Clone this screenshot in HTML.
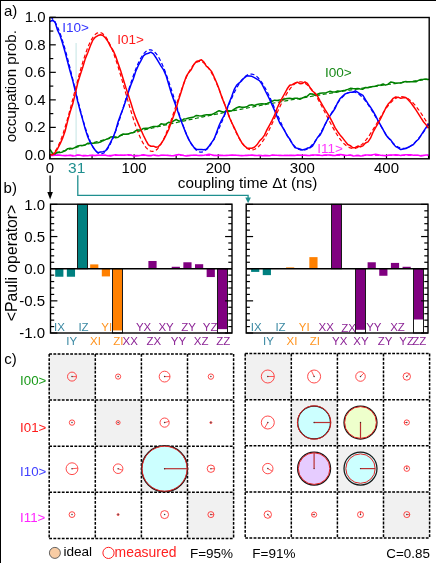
<!DOCTYPE html>
<html><head><meta charset="utf-8"><style>
html,body{margin:0;padding:0;background:#fff;}
svg{display:block;will-change:transform;}
text{font-family:"Liberation Sans", sans-serif;}
</style></head><body>
<svg width="436" height="563" viewBox="0 0 436 563">
<rect width="436" height="563" fill="#fff"/>
<line x1="0.00" y1="0.50" x2="436.00" y2="0.50" stroke="#000" stroke-width="1" />
<line x1="0.50" y1="0.00" x2="0.50" y2="563.00" stroke="#000" stroke-width="1" />
<text x="4.00" y="16.00" font-size="15" fill="#000" text-anchor="start" >a)</text>
<line x1="49.80" y1="154.90" x2="55.80" y2="154.90" stroke="#000" stroke-width="1.2" />
<line x1="49.80" y1="141.14" x2="53.30" y2="141.14" stroke="#000" stroke-width="1.2" />
<line x1="49.80" y1="127.38" x2="55.80" y2="127.38" stroke="#000" stroke-width="1.2" />
<line x1="49.80" y1="113.62" x2="53.30" y2="113.62" stroke="#000" stroke-width="1.2" />
<line x1="49.80" y1="99.86" x2="55.80" y2="99.86" stroke="#000" stroke-width="1.2" />
<line x1="49.80" y1="86.10" x2="53.30" y2="86.10" stroke="#000" stroke-width="1.2" />
<line x1="49.80" y1="72.34" x2="55.80" y2="72.34" stroke="#000" stroke-width="1.2" />
<line x1="49.80" y1="58.58" x2="53.30" y2="58.58" stroke="#000" stroke-width="1.2" />
<line x1="49.80" y1="44.82" x2="55.80" y2="44.82" stroke="#000" stroke-width="1.2" />
<line x1="49.80" y1="31.06" x2="53.30" y2="31.06" stroke="#000" stroke-width="1.2" />
<line x1="49.80" y1="17.30" x2="55.80" y2="17.30" stroke="#000" stroke-width="1.2" />
<line x1="50.00" y1="158.80" x2="50.00" y2="154.30" stroke="#000" stroke-width="1.2" />
<line x1="92.06" y1="158.80" x2="92.06" y2="155.30" stroke="#000" stroke-width="1.2" />
<line x1="134.12" y1="158.80" x2="134.12" y2="154.30" stroke="#000" stroke-width="1.2" />
<line x1="176.18" y1="158.80" x2="176.18" y2="155.30" stroke="#000" stroke-width="1.2" />
<line x1="218.24" y1="158.80" x2="218.24" y2="154.30" stroke="#000" stroke-width="1.2" />
<line x1="260.30" y1="158.80" x2="260.30" y2="155.30" stroke="#000" stroke-width="1.2" />
<line x1="302.36" y1="158.80" x2="302.36" y2="154.30" stroke="#000" stroke-width="1.2" />
<line x1="344.42" y1="158.80" x2="344.42" y2="155.30" stroke="#000" stroke-width="1.2" />
<line x1="386.48" y1="158.80" x2="386.48" y2="154.30" stroke="#000" stroke-width="1.2" />
<line x1="428.54" y1="158.80" x2="428.54" y2="155.30" stroke="#000" stroke-width="1.2" />
<text x="45.60" y="159.60" font-size="15" fill="#000" text-anchor="end" >0.0</text>
<text x="45.60" y="132.08" font-size="15" fill="#000" text-anchor="end" >0.2</text>
<text x="45.60" y="104.56" font-size="15" fill="#000" text-anchor="end" >0.4</text>
<text x="45.60" y="77.04" font-size="15" fill="#000" text-anchor="end" >0.6</text>
<text x="45.60" y="49.52" font-size="15" fill="#000" text-anchor="end" >0.8</text>
<text x="45.60" y="22.00" font-size="15" fill="#000" text-anchor="end" >1.0</text>
<text x="50.00" y="172.70" font-size="15" fill="#000" text-anchor="middle" >0</text>
<text x="134.12" y="172.70" font-size="15" fill="#000" text-anchor="middle" >100</text>
<text x="218.24" y="172.70" font-size="15" fill="#000" text-anchor="middle" >200</text>
<text x="302.36" y="172.70" font-size="15" fill="#000" text-anchor="middle" >300</text>
<text x="386.48" y="172.70" font-size="15" fill="#000" text-anchor="middle" >400</text>
<text x="76.68" y="172.70" font-size="15.5" fill="#1f8f8f" text-anchor="middle" >31</text>
<text x="177.80" y="188.20" font-size="15.3" fill="#000" text-anchor="start" >coupling time Δt (ns)</text>
<text transform="translate(16,86.2) rotate(-90)" font-size="15.2" text-anchor="middle">occupation prob.</text>
<clipPath id="ca"><rect x="49.8" y="17.5" width="379.4" height="141.3"/></clipPath>
<g clip-path="url(#ca)" fill="none" stroke-linejoin="round">
<line x1="76.08" y1="43.50" x2="76.08" y2="158.80" stroke="#88c8c8" stroke-width="1.0" stroke-dasharray="1 1"/>
<path d="M50.00,154.90 L51.68,154.40 L53.36,153.90 L55.05,153.40 L56.73,152.90 L58.41,152.41 L60.09,151.92 L61.78,151.43 L63.46,150.94 L65.14,150.46 L66.82,149.98 L68.51,149.50 L70.19,149.02 L71.87,148.55 L73.55,148.07 L75.24,147.60 L76.92,147.13 L78.60,146.67 L80.28,146.20 L81.97,145.74 L83.65,145.28 L85.33,144.82 L87.01,144.36 L88.70,143.91 L90.38,143.46 L92.06,143.01 L93.74,142.56 L95.42,142.11 L97.11,141.67 L98.79,141.22 L100.47,140.78 L102.15,140.34 L103.84,139.90 L105.52,139.47 L107.20,139.03 L108.88,138.60 L110.57,138.17 L112.25,137.74 L113.93,137.32 L115.61,136.89 L117.30,136.47 L118.98,136.05 L120.66,135.63 L122.34,135.21 L124.03,134.79 L125.71,134.38 L127.39,133.97 L129.07,133.55 L130.76,133.14 L132.44,132.74 L134.12,132.33 L135.80,131.92 L137.48,131.52 L139.17,131.12 L140.85,130.72 L142.53,130.32 L144.21,129.92 L145.90,129.52 L147.58,129.13 L149.26,128.74 L150.94,128.34 L152.63,127.95 L154.31,127.56 L155.99,127.18 L157.67,126.79 L159.36,126.41 L161.04,126.02 L162.72,125.64 L164.40,125.26 L166.09,124.88 L167.77,124.50 L169.45,124.13 L171.13,123.75 L172.82,123.38 L174.50,123.00 L176.18,122.63 L177.86,122.26 L179.54,121.89 L181.23,121.53 L182.91,121.16 L184.59,120.80 L186.27,120.43 L187.96,120.07 L189.64,119.71 L191.32,119.35 L193.00,118.99 L194.69,118.63 L196.37,118.27 L198.05,117.92 L199.73,117.56 L201.42,117.21 L203.10,116.86 L204.78,116.51 L206.46,116.16 L208.15,115.81 L209.83,115.46 L211.51,115.11 L213.19,114.77 L214.88,114.43 L216.56,114.08 L218.24,113.74 L219.92,113.40 L221.60,113.06 L223.29,112.72 L224.97,112.38 L226.65,112.05 L228.33,111.71 L230.02,111.38 L231.70,111.04 L233.38,110.71 L235.06,110.38 L236.75,110.05 L238.43,109.72 L240.11,109.39 L241.79,109.06 L243.48,108.74 L245.16,108.41 L246.84,108.09 L248.52,107.76 L250.21,107.44 L251.89,107.12 L253.57,106.80 L255.25,106.48 L256.94,106.16 L258.62,105.84 L260.30,105.53 L261.98,105.21 L263.66,104.90 L265.35,104.59 L267.03,104.27 L268.71,103.96 L270.39,103.65 L272.08,103.34 L273.76,103.03 L275.44,102.73 L277.12,102.42 L278.81,102.11 L280.49,101.81 L282.17,101.51 L283.85,101.20 L285.54,100.90 L287.22,100.60 L288.90,100.30 L290.58,100.00 L292.27,99.71 L293.95,99.41 L295.63,99.11 L297.31,98.82 L299.00,98.53 L300.68,98.23 L302.36,97.94 L304.04,97.65 L305.72,97.36 L307.41,97.07 L309.09,96.78 L310.77,96.50 L312.45,96.21 L314.14,95.93 L315.82,95.64 L317.50,95.36 L319.18,95.08 L320.87,94.80 L322.55,94.52 L324.23,94.24 L325.91,93.97 L327.60,93.69 L329.28,93.41 L330.96,93.14 L332.64,92.87 L334.33,92.59 L336.01,92.32 L337.69,92.05 L339.37,91.78 L341.06,91.52 L342.74,91.25 L344.42,90.98 L346.10,90.72 L347.78,90.46 L349.47,90.19 L351.15,89.93 L352.83,89.67 L354.51,89.41 L356.20,89.16 L357.88,88.90 L359.56,88.65 L361.24,88.39 L362.93,88.14 L364.61,87.89 L366.29,87.64 L367.97,87.39 L369.66,87.14 L371.34,86.89 L373.02,86.65 L374.70,86.40 L376.39,86.16 L378.07,85.92 L379.75,85.67 L381.43,85.44 L383.12,85.20 L384.80,84.96 L386.48,84.72 L388.16,84.49 L389.84,84.26 L391.53,84.03 L393.21,83.79 L394.89,83.57 L396.57,83.34 L398.26,83.11 L399.94,82.89 L401.62,82.66 L403.30,82.44 L404.99,82.22 L406.67,82.00 L408.35,81.78 L410.03,81.57 L411.72,81.35 L413.40,81.14 L415.08,80.92 L416.76,80.71 L418.45,80.50 L420.13,80.30 L421.81,80.09 L423.49,79.89 L425.18,79.68 L426.86,79.48 L428.54,79.28 L430.22,79.11" stroke="#008000" stroke-width="1.2" stroke-dasharray="4 2.5"/>
<path d="M50.00,155.31 L51.68,155.31 L53.36,155.31 L55.05,155.31 L56.73,155.31 L58.41,155.31 L60.09,155.31 L61.78,155.31 L63.46,155.31 L65.14,155.31 L66.82,155.31 L68.51,155.31 L70.19,155.31 L71.87,155.31 L73.55,155.31 L75.24,155.31 L76.92,155.31 L78.60,155.31 L80.28,155.31 L81.97,155.31 L83.65,155.31 L85.33,155.31 L87.01,155.31 L88.70,155.31 L90.38,155.31 L92.06,155.31 L93.74,155.31 L95.42,155.31 L97.11,155.31 L98.79,155.31 L100.47,155.31 L102.15,155.31 L103.84,155.31 L105.52,155.31 L107.20,155.31 L108.88,155.31 L110.57,155.31 L112.25,155.31 L113.93,155.31 L115.61,155.31 L117.30,155.31 L118.98,155.31 L120.66,155.31 L122.34,155.31 L124.03,155.31 L125.71,155.31 L127.39,155.31 L129.07,155.31 L130.76,155.31 L132.44,155.31 L134.12,155.31 L135.80,155.31 L137.48,155.31 L139.17,155.31 L140.85,155.31 L142.53,155.31 L144.21,155.31 L145.90,155.31 L147.58,155.31 L149.26,155.31 L150.94,155.31 L152.63,155.31 L154.31,155.31 L155.99,155.31 L157.67,155.31 L159.36,155.31 L161.04,155.31 L162.72,155.31 L164.40,155.31 L166.09,155.31 L167.77,155.31 L169.45,155.31 L171.13,155.31 L172.82,155.31 L174.50,155.31 L176.18,155.31 L177.86,155.31 L179.54,155.31 L181.23,155.31 L182.91,155.31 L184.59,155.31 L186.27,155.31 L187.96,155.31 L189.64,155.31 L191.32,155.31 L193.00,155.31 L194.69,155.31 L196.37,155.31 L198.05,155.31 L199.73,155.31 L201.42,155.31 L203.10,155.31 L204.78,155.31 L206.46,155.31 L208.15,155.31 L209.83,155.31 L211.51,155.31 L213.19,155.31 L214.88,155.31 L216.56,155.31 L218.24,155.31 L219.92,155.31 L221.60,155.31 L223.29,155.31 L224.97,155.31 L226.65,155.31 L228.33,155.31 L230.02,155.31 L231.70,155.31 L233.38,155.31 L235.06,155.31 L236.75,155.31 L238.43,155.31 L240.11,155.31 L241.79,155.31 L243.48,155.31 L245.16,155.31 L246.84,155.31 L248.52,155.31 L250.21,155.31 L251.89,155.31 L253.57,155.31 L255.25,155.31 L256.94,155.31 L258.62,155.31 L260.30,155.31 L261.98,155.31 L263.66,155.31 L265.35,155.31 L267.03,155.31 L268.71,155.31 L270.39,155.31 L272.08,155.31 L273.76,155.31 L275.44,155.31 L277.12,155.31 L278.81,155.31 L280.49,155.31 L282.17,155.31 L283.85,155.31 L285.54,155.31 L287.22,155.31 L288.90,155.31 L290.58,155.31 L292.27,155.31 L293.95,155.31 L295.63,155.31 L297.31,155.31 L299.00,155.31 L300.68,155.31 L302.36,155.31 L304.04,155.31 L305.72,155.31 L307.41,155.31 L309.09,155.31 L310.77,155.31 L312.45,155.31 L314.14,155.31 L315.82,155.31 L317.50,155.31 L319.18,155.31 L320.87,155.31 L322.55,155.31 L324.23,155.31 L325.91,155.31 L327.60,155.31 L329.28,155.31 L330.96,155.31 L332.64,155.31 L334.33,155.31 L336.01,155.31 L337.69,155.31 L339.37,155.31 L341.06,155.31 L342.74,155.31 L344.42,155.31 L346.10,155.31 L347.78,155.31 L349.47,155.31 L351.15,155.31 L352.83,155.31 L354.51,155.31 L356.20,155.31 L357.88,155.31 L359.56,155.31 L361.24,155.31 L362.93,155.31 L364.61,155.31 L366.29,155.31 L367.97,155.31 L369.66,155.31 L371.34,155.31 L373.02,155.31 L374.70,155.31 L376.39,155.31 L378.07,155.31 L379.75,155.31 L381.43,155.31 L383.12,155.31 L384.80,155.31 L386.48,155.31 L388.16,155.31 L389.84,155.31 L391.53,155.31 L393.21,155.31 L394.89,155.31 L396.57,155.31 L398.26,155.31 L399.94,155.31 L401.62,155.31 L403.30,155.31 L404.99,155.31 L406.67,155.31 L408.35,155.31 L410.03,155.31 L411.72,155.31 L413.40,155.31 L415.08,155.31 L416.76,155.31 L418.45,155.31 L420.13,155.31 L421.81,155.31 L423.49,155.31 L425.18,155.31 L426.86,155.31 L428.54,155.31 L430.22,155.31" stroke="#ff00ff" stroke-width="1.2" stroke-dasharray="4 2.5"/>
<path d="M50.00,16.91 L51.68,17.92 L53.36,19.66 L55.05,22.10 L56.73,25.21 L58.41,28.96 L60.09,33.30 L61.78,38.18 L63.46,43.56 L65.14,49.36 L66.82,55.53 L68.51,62.00 L70.19,68.70 L71.87,75.56 L73.55,82.51 L75.24,89.47 L76.92,96.38 L78.60,103.15 L80.28,109.73 L81.97,116.05 L83.65,122.05 L85.33,127.66 L87.01,132.83 L88.70,137.52 L90.38,141.68 L92.06,145.28 L93.74,148.28 L95.42,150.66 L97.11,152.41 L98.79,153.51 L100.47,153.96 L102.15,153.77 L103.84,152.93 L105.52,151.47 L107.20,149.41 L108.88,146.78 L110.57,143.61 L112.25,139.96 L113.93,135.86 L115.61,131.37 L117.30,126.55 L118.98,121.44 L120.66,116.13 L122.34,110.66 L124.03,105.10 L125.71,99.51 L127.39,93.97 L129.07,88.53 L130.76,83.24 L132.44,78.18 L134.12,73.40 L135.80,68.95 L137.48,64.87 L139.17,61.22 L140.85,58.02 L142.53,55.32 L144.21,53.13 L145.90,51.49 L147.58,50.40 L149.26,49.87 L150.94,49.92 L152.63,50.53 L154.31,51.71 L155.99,53.46 L157.67,55.73 L159.36,58.51 L161.04,61.77 L162.72,65.45 L164.40,69.53 L166.09,73.95 L167.77,78.66 L169.45,83.60 L171.13,88.73 L172.82,93.98 L174.50,99.30 L176.18,104.63 L177.86,109.90 L179.54,115.07 L181.23,120.08 L182.91,124.87 L184.59,129.40 L186.27,133.61 L187.96,137.47 L189.64,140.94 L191.32,143.98 L193.00,146.58 L194.69,148.69 L196.37,150.31 L198.05,151.43 L199.73,152.04 L201.42,152.13 L203.10,151.75 L204.78,150.91 L206.46,149.61 L208.15,147.90 L209.83,145.78 L211.51,143.29 L213.19,140.45 L214.88,137.31 L216.56,133.90 L218.24,130.27 L219.92,126.44 L221.60,122.48 L223.29,118.42 L224.97,114.30 L226.65,110.19 L228.33,106.11 L230.02,102.12 L231.70,98.25 L233.38,94.56 L235.06,91.07 L236.75,87.83 L238.43,84.87 L240.11,82.22 L241.79,79.90 L243.48,77.94 L245.16,76.37 L246.84,75.18 L248.52,74.40 L250.21,74.02 L251.89,74.06 L253.57,74.51 L255.25,75.37 L256.94,76.64 L258.62,78.29 L260.30,80.31 L261.98,82.67 L263.66,85.35 L265.35,88.31 L267.03,91.53 L268.71,94.96 L270.39,98.56 L272.08,102.31 L273.76,106.15 L275.44,110.04 L277.12,113.96 L278.81,117.84 L280.49,121.66 L282.17,125.37 L283.85,128.93 L285.54,132.31 L287.22,135.48 L288.90,138.40 L290.58,141.05 L292.27,143.40 L293.95,145.43 L295.63,147.12 L297.31,148.46 L299.00,149.44 L300.68,150.06 L302.36,150.30 L304.04,150.18 L305.72,149.71 L307.41,148.89 L309.09,147.74 L310.77,146.28 L312.45,144.53 L314.14,142.50 L315.82,140.23 L317.50,137.75 L319.18,135.08 L320.87,132.25 L322.55,129.31 L324.23,126.28 L325.91,123.19 L327.60,120.09 L329.28,117.01 L330.96,113.98 L332.64,111.03 L334.33,108.21 L336.01,105.53 L337.69,103.03 L339.37,100.73 L341.06,98.66 L342.74,96.84 L344.42,95.28 L346.10,94.01 L347.78,93.03 L349.47,92.36 L351.15,91.99 L352.83,91.94 L354.51,92.19 L356.20,92.76 L357.88,93.64 L359.56,94.81 L361.24,96.27 L362.93,97.98 L364.61,99.94 L366.29,102.12 L367.97,104.50 L369.66,107.04 L371.34,109.72 L373.02,112.51 L374.70,115.37 L376.39,118.28 L378.07,121.21 L379.75,124.12 L381.43,126.98 L383.12,129.76 L384.80,132.44 L386.48,134.98 L388.16,137.36 L389.84,139.56 L391.53,141.55 L393.21,143.31 L394.89,144.83 L396.57,146.10 L398.26,147.11 L399.94,147.84 L401.62,148.29 L403.30,148.47 L404.99,148.37 L406.67,147.99 L408.35,147.35 L410.03,146.45 L411.72,145.31 L413.40,143.94 L415.08,142.36 L416.76,140.60 L418.45,138.67 L420.13,136.61 L421.81,134.43 L423.49,132.17 L425.18,129.84 L426.86,127.49 L428.54,125.13 L430.22,122.81" stroke="#0000ff" stroke-width="1.2" stroke-dasharray="4 2.5"/>
<path d="M50.00,154.90 L51.68,154.46 L53.36,153.28 L55.05,151.38 L56.73,148.79 L58.41,145.54 L60.09,141.69 L61.78,137.29 L63.46,132.38 L65.14,127.04 L66.82,121.32 L68.51,115.30 L70.19,109.05 L71.87,102.64 L73.55,96.14 L75.24,89.62 L76.92,83.17 L78.60,76.85 L80.28,70.73 L81.97,64.88 L83.65,59.36 L85.33,54.23 L87.01,49.55 L88.70,45.36 L90.38,41.70 L92.06,38.62 L93.74,36.13 L95.42,34.28 L97.11,33.06 L98.79,32.50 L100.47,32.59 L102.15,33.32 L103.84,34.67 L105.52,36.61 L107.20,39.13 L108.88,42.19 L110.57,45.76 L112.25,49.81 L113.93,54.27 L115.61,59.12 L117.30,64.29 L118.98,69.73 L120.66,75.38 L122.34,81.19 L124.03,87.09 L125.71,93.03 L127.39,98.95 L129.07,104.78 L130.76,110.47 L132.44,115.97 L134.12,121.22 L135.80,126.17 L137.48,130.78 L139.17,135.00 L140.85,138.80 L142.53,142.14 L144.21,145.00 L145.90,147.35 L147.58,149.17 L149.26,150.47 L150.94,151.22 L152.63,151.45 L154.31,151.12 L155.99,150.19 L157.67,148.68 L159.36,146.62 L161.04,144.04 L162.72,140.97 L164.40,137.47 L166.09,133.57 L167.77,129.34 L169.45,124.83 L171.13,120.09 L172.82,115.19 L174.50,110.20 L176.18,105.16 L177.86,100.16 L179.54,95.24 L181.23,90.47 L182.91,85.90 L184.59,81.59 L186.27,77.60 L187.96,73.96 L189.64,70.73 L191.32,67.93 L193.00,65.60 L194.69,63.76 L196.37,62.44 L198.05,61.64 L199.73,61.38 L201.42,61.65 L203.10,62.41 L204.78,63.64 L206.46,65.31 L208.15,67.42 L209.83,69.93 L211.51,72.82 L213.19,76.05 L214.88,79.59 L216.56,83.39 L218.24,87.43 L219.92,91.64 L221.60,96.00 L223.29,100.44 L224.97,104.94 L226.65,109.43 L228.33,113.87 L230.02,118.22 L231.70,122.43 L233.38,126.47 L235.06,130.28 L236.75,133.84 L238.43,137.11 L240.11,140.05 L241.79,142.65 L243.48,144.88 L245.16,146.72 L246.84,148.16 L248.52,149.18 L250.21,149.78 L251.89,149.97 L253.57,149.72 L255.25,149.05 L256.94,147.97 L258.62,146.48 L260.30,144.62 L261.98,142.41 L263.66,139.88 L265.35,137.07 L267.03,134.01 L268.71,130.73 L270.39,127.29 L272.08,123.71 L273.76,120.05 L275.44,116.35 L277.12,112.66 L278.81,109.00 L280.49,105.44 L282.17,102.01 L283.85,98.74 L285.54,95.68 L287.22,92.86 L288.90,90.31 L290.58,88.05 L292.27,86.12 L293.95,84.54 L295.63,83.31 L297.31,82.46 L299.00,81.98 L300.68,81.88 L302.36,82.17 L304.04,82.80 L305.72,83.76 L307.41,85.04 L309.09,86.62 L310.77,88.50 L312.45,90.64 L314.14,93.03 L315.82,95.64 L317.50,98.44 L319.18,101.40 L320.87,104.49 L322.55,107.68 L324.23,110.95 L325.91,114.24 L327.60,117.54 L329.28,120.82 L330.96,124.02 L332.64,127.14 L334.33,130.13 L336.01,132.97 L337.69,135.64 L339.37,138.10 L341.06,140.34 L342.74,142.33 L344.42,144.06 L346.10,145.52 L347.78,146.69 L349.47,147.57 L351.15,148.15 L352.83,148.42 L354.51,148.39 L356.20,148.04 L357.88,147.35 L359.56,146.36 L361.24,145.07 L362.93,143.50 L364.61,141.67 L366.29,139.61 L367.97,137.35 L369.66,134.91 L371.34,132.32 L373.02,129.62 L374.70,126.84 L376.39,124.02 L378.07,121.18 L379.75,118.37 L381.43,115.61 L383.12,112.94 L384.80,110.39 L386.48,107.98 L388.16,105.75 L389.84,103.72 L391.53,101.92 L393.21,100.35 L394.89,99.05 L396.57,98.02 L398.26,97.27 L399.94,96.81 L401.62,96.65 L403.30,96.79 L404.99,97.21 L406.67,97.91 L408.35,98.88 L410.03,100.11 L411.72,101.59 L413.40,103.29 L415.08,105.19 L416.76,107.28 L418.45,109.52 L420.13,111.90 L421.81,114.39 L423.49,116.95 L425.18,119.56 L426.86,122.19 L428.54,124.81 L430.22,127.41" stroke="#ff0000" stroke-width="1.2" stroke-dasharray="4 2.5"/>
<path d="M50.00,155.47 L52.52,155.50 L55.05,155.19 L57.57,154.90 L60.09,155.16 L62.62,155.44 L65.14,155.66 L67.67,155.47 L70.19,155.29 L72.71,155.97 L75.24,155.69 L77.76,154.89 L80.28,155.29 L82.81,155.89 L85.33,155.68 L87.85,155.69 L90.38,155.38 L92.90,155.29 L95.42,155.60 L97.95,155.21 L100.47,155.22 L103.00,155.26 L105.52,155.32 L108.04,155.78 L110.57,156.01 L113.09,155.17 L115.61,154.75 L118.14,155.20 L120.66,155.12 L123.18,155.14 L125.71,155.12 L128.23,154.64 L130.76,154.94 L133.28,155.89 L135.80,155.88 L138.33,155.82 L140.85,155.34 L143.37,154.74 L145.90,155.21 L148.42,155.82 L150.94,155.66 L153.47,154.89 L155.99,155.57 L158.51,155.81 L161.04,155.33 L163.56,155.18 L166.09,155.19 L168.61,155.55 L171.13,155.67 L173.66,155.86 L176.18,155.06 L178.70,154.57 L181.23,155.06 L183.75,155.53 L186.27,155.94 L188.80,155.80 L191.32,155.29 L193.85,155.21 L196.37,155.22 L198.89,155.51 L201.42,155.50 L203.94,155.20 L206.46,154.83 L208.99,154.31 L211.51,154.70 L214.03,155.42 L216.56,155.40 L219.08,155.36 L221.60,155.55 L224.13,155.40 L226.65,155.48 L229.18,155.30 L231.70,155.04 L234.22,155.13 L236.75,155.16 L239.27,155.43 L241.79,155.64 L244.32,155.50 L246.84,155.39 L249.36,155.26 L251.89,155.11 L254.41,155.55 L256.94,155.53 L259.46,155.53 L261.98,155.71 L264.51,155.43 L267.03,155.83 L269.55,155.72 L272.08,155.11 L274.60,155.18 L277.12,155.34 L279.65,155.39 L282.17,155.55 L284.69,155.52 L287.22,155.40 L289.74,155.30 L292.27,155.48 L294.79,155.44 L297.31,155.07 L299.84,155.17 L302.36,155.34 L304.88,155.14 L307.41,155.48 L309.93,155.51 L312.45,154.98 L314.98,155.03 L317.50,154.99 L320.03,155.25 L322.55,155.43 L325.07,155.07 L327.60,154.88 L330.12,155.00 L332.64,155.54 L335.17,155.44 L337.69,154.71 L340.21,154.58 L342.74,154.83 L345.26,155.54 L347.78,155.34 L350.31,154.96 L352.83,155.91 L355.36,155.77 L357.88,155.48 L360.40,155.94 L362.93,155.71 L365.45,155.00 L367.97,154.93 L370.50,155.20 L373.02,154.62 L375.54,154.26 L378.07,154.76 L380.59,155.27 L383.12,155.59 L385.64,155.71 L388.16,155.25 L390.69,154.95 L393.21,155.04 L395.73,154.87 L398.26,155.11 L400.78,155.40 L403.30,154.99 L405.83,154.81 L408.35,154.72 L410.87,154.77 L413.40,155.15 L415.92,155.16 L418.45,155.35 L420.97,155.90 L423.49,155.47 L426.02,155.03 L428.54,155.11" stroke="#ff00ff" stroke-width="1.5"/>
<path d="M50.00,149.40 L52.52,153.25 L55.05,153.80 L57.57,152.15 L60.09,152.61 L62.62,151.91 L65.14,150.83 L67.67,148.63 L70.19,148.22 L72.71,148.69 L75.24,147.34 L77.76,146.00 L80.28,145.51 L82.81,145.58 L85.33,144.94 L87.85,143.21 L90.38,143.32 L92.90,143.32 L95.42,142.96 L97.95,142.78 L100.47,142.05 L103.00,140.71 L105.52,139.66 L108.04,138.67 L110.57,137.11 L113.09,136.72 L115.61,137.71 L118.14,137.27 L120.66,135.08 L123.18,134.02 L125.71,134.29 L128.23,134.00 L130.76,133.02 L133.28,132.59 L135.80,130.69 L138.33,130.06 L140.85,130.11 L143.37,128.44 L145.90,128.16 L148.42,128.16 L150.94,127.12 L153.47,126.40 L155.99,126.62 L158.51,126.02 L161.04,123.82 L163.56,124.23 L166.09,123.95 L168.61,122.33 L171.13,122.68 L173.66,120.94 L176.18,119.49 L178.70,120.90 L181.23,120.76 L183.75,119.10 L186.27,118.70 L188.80,118.07 L191.32,117.44 L193.85,116.90 L196.37,115.42 L198.89,115.71 L201.42,115.93 L203.94,115.26 L206.46,114.78 L208.99,114.69 L211.51,114.60 L214.03,113.46 L216.56,112.03 L219.08,110.68 L221.60,111.54 L224.13,112.22 L226.65,110.50 L229.18,110.73 L231.70,110.91 L234.22,109.24 L236.75,107.68 L239.27,106.70 L241.79,107.19 L244.32,107.35 L246.84,106.82 L249.36,105.17 L251.89,104.80 L254.41,105.45 L256.94,104.50 L259.46,103.91 L261.98,103.79 L264.51,103.94 L267.03,103.36 L269.55,102.49 L272.08,101.30 L274.60,100.17 L277.12,100.46 L279.65,100.00 L282.17,99.76 L284.69,99.08 L287.22,98.43 L289.74,98.29 L292.27,98.65 L294.79,98.37 L297.31,98.19 L299.84,99.24 L302.36,97.96 L304.88,96.84 L307.41,96.13 L309.93,93.77 L312.45,93.98 L314.98,95.35 L317.50,94.31 L320.03,93.21 L322.55,93.05 L325.07,93.09 L327.60,92.15 L330.12,91.32 L332.64,92.00 L335.17,91.99 L337.69,90.95 L340.21,91.18 L342.74,90.66 L345.26,90.17 L347.78,89.36 L350.31,88.34 L352.83,88.53 L355.36,88.65 L357.88,88.43 L360.40,88.94 L362.93,89.22 L365.45,87.41 L367.97,87.68 L370.50,87.04 L373.02,86.47 L375.54,86.19 L378.07,85.30 L380.59,84.96 L383.12,84.03 L385.64,85.14 L388.16,84.13 L390.69,81.96 L393.21,82.47 L395.73,83.22 L398.26,82.97 L400.78,83.10 L403.30,82.02 L405.83,81.46 L408.35,81.87 L410.87,81.74 L413.40,81.81 L415.92,81.83 L418.45,80.38 L420.97,79.41 L423.49,79.31 L426.02,78.94 L428.54,79.70" stroke="#008000" stroke-width="1.5"/>
<path d="M50.00,21.57 L52.52,20.05 L55.05,22.12 L57.57,30.29 L60.09,35.44 L62.62,43.51 L65.14,52.23 L67.67,62.02 L70.19,71.54 L72.71,80.38 L75.24,90.80 L77.76,101.58 L80.28,111.22 L82.81,120.17 L85.33,129.38 L87.85,136.96 L90.38,142.71 L92.90,146.95 L95.42,150.44 L97.95,152.73 L100.47,151.94 L103.00,151.69 L105.52,150.85 L108.04,147.14 L110.57,142.22 L113.09,137.40 L115.61,130.72 L118.14,121.78 L120.66,114.67 L123.18,108.19 L125.71,100.74 L128.23,92.60 L130.76,85.20 L133.28,79.06 L135.80,71.13 L138.33,65.45 L140.85,60.96 L143.37,55.89 L145.90,53.96 L148.42,53.30 L150.94,52.18 L153.47,53.80 L155.99,57.74 L158.51,61.97 L161.04,66.15 L163.56,69.89 L166.09,75.59 L168.61,83.98 L171.13,92.44 L173.66,99.75 L176.18,106.69 L178.70,114.03 L181.23,121.29 L183.75,127.72 L186.27,134.14 L188.80,139.66 L191.32,143.77 L193.85,147.23 L196.37,149.42 L198.89,149.49 L201.42,149.61 L203.94,149.85 L206.46,149.34 L208.99,146.26 L211.51,142.67 L214.03,139.27 L216.56,132.40 L219.08,125.46 L221.60,120.12 L224.13,115.49 L226.65,109.48 L229.18,102.84 L231.70,96.52 L234.22,89.45 L236.75,85.03 L239.27,82.93 L241.79,80.60 L244.32,77.83 L246.84,75.80 L249.36,76.01 L251.89,76.31 L254.41,77.62 L256.94,79.13 L259.46,80.62 L261.98,84.19 L264.51,89.28 L267.03,94.27 L269.55,99.08 L272.08,104.95 L274.60,110.55 L277.12,116.62 L279.65,122.73 L282.17,126.66 L284.69,130.80 L287.22,135.67 L289.74,138.94 L292.27,143.57 L294.79,147.45 L297.31,148.35 L299.84,148.96 L302.36,149.90 L304.88,149.35 L307.41,148.05 L309.93,147.77 L312.45,146.11 L314.98,141.88 L317.50,137.50 L320.03,135.21 L322.55,130.37 L325.07,124.29 L327.60,119.65 L330.12,115.62 L332.64,112.12 L335.17,108.28 L337.69,102.56 L340.21,98.43 L342.74,95.99 L345.26,93.83 L347.78,92.89 L350.31,92.37 L352.83,92.26 L355.36,90.86 L357.88,92.39 L360.40,94.03 L362.93,95.40 L365.45,99.67 L367.97,103.67 L370.50,107.22 L373.02,111.17 L375.54,115.68 L378.07,120.72 L380.59,125.13 L383.12,129.68 L385.64,134.49 L388.16,137.75 L390.69,139.85 L393.21,143.71 L395.73,146.63 L398.26,147.84 L400.78,149.55 L403.30,149.04 L405.83,148.51 L408.35,147.22 L410.87,145.87 L413.40,144.48 L415.92,141.55 L418.45,139.24 L420.97,135.37 L423.49,131.38 L426.02,127.59 L428.54,123.69" stroke="#0000ff" stroke-width="1.5"/>
<path d="M50.00,155.03 L52.52,154.87 L55.05,152.54 L57.57,148.76 L60.09,143.88 L62.62,138.15 L65.14,131.03 L67.67,120.84 L70.19,111.79 L72.71,104.07 L75.24,93.87 L77.76,82.84 L80.28,74.74 L82.81,67.05 L85.33,58.60 L87.85,52.55 L90.38,45.78 L92.90,40.02 L95.42,37.07 L97.95,35.56 L100.47,34.79 L103.00,35.53 L105.52,37.99 L108.04,41.59 L110.57,46.57 L113.09,50.34 L115.61,56.04 L118.14,63.54 L120.66,70.65 L123.18,78.92 L125.71,87.25 L128.23,94.70 L130.76,102.57 L133.28,110.79 L135.80,117.91 L138.33,123.84 L140.85,129.49 L143.37,135.23 L145.90,140.35 L148.42,144.82 L150.94,146.24 L153.47,146.13 L155.99,147.23 L158.51,146.61 L161.04,143.70 L163.56,139.83 L166.09,134.85 L168.61,129.72 L171.13,122.59 L173.66,115.71 L176.18,108.39 L178.70,99.46 L181.23,91.75 L183.75,83.56 L186.27,76.45 L188.80,72.41 L191.32,69.45 L193.85,64.45 L196.37,61.50 L198.89,60.79 L201.42,59.77 L203.94,62.08 L206.46,66.27 L208.99,68.45 L211.51,71.37 L214.03,76.74 L216.56,82.45 L219.08,89.06 L221.60,96.61 L224.13,102.97 L226.65,109.46 L229.18,117.06 L231.70,122.54 L234.22,127.51 L236.75,132.95 L239.27,138.20 L241.79,142.73 L244.32,145.73 L246.84,147.93 L249.36,148.27 L251.89,148.30 L254.41,147.32 L256.94,144.80 L259.46,141.06 L261.98,138.64 L264.51,135.17 L267.03,129.63 L269.55,125.03 L272.08,120.44 L274.60,115.15 L277.12,108.25 L279.65,102.64 L282.17,97.99 L284.69,93.50 L287.22,88.78 L289.74,85.22 L292.27,84.66 L294.79,83.25 L297.31,82.14 L299.84,83.63 L302.36,83.43 L304.88,81.90 L307.41,83.45 L309.93,87.45 L312.45,91.01 L314.98,92.98 L317.50,96.07 L320.03,100.82 L322.55,105.25 L325.07,109.71 L327.60,113.70 L330.12,117.89 L332.64,122.67 L335.17,127.90 L337.69,131.71 L340.21,135.17 L342.74,138.11 L345.26,141.35 L347.78,144.52 L350.31,145.64 L352.83,147.75 L355.36,147.50 L357.88,146.05 L360.40,146.90 L362.93,145.86 L365.45,142.98 L367.97,141.92 L370.50,138.17 L373.02,132.25 L375.54,127.65 L378.07,123.41 L380.59,118.75 L383.12,113.49 L385.64,108.23 L388.16,104.05 L390.69,101.55 L393.21,98.32 L395.73,96.98 L398.26,97.37 L400.78,98.25 L403.30,97.85 L405.83,97.57 L408.35,99.99 L410.87,102.72 L413.40,106.22 L415.92,109.89 L418.45,113.79 L420.97,117.93 L423.49,121.72 L426.02,124.64 L428.54,128.23" stroke="#ff0000" stroke-width="1.5"/>
</g>
<rect x="49.8" y="17.5" width="379.4" height="141.3" fill="none" stroke="#000" stroke-width="1.4"/>
<text x="62.20" y="31.70" font-size="13.5" fill="#3333ff" text-anchor="start" >I10&gt;</text>
<text x="117.20" y="44.40" font-size="13.5" fill="#ff1a1a" text-anchor="start" >I01&gt;</text>
<text x="324.90" y="77.40" font-size="13.6" fill="#1a8a1a" text-anchor="start" >I00&gt;</text>
<text x="317.20" y="153.20" font-size="13.5" fill="#ff33ff" text-anchor="start" >I11&gt;</text>
<line x1="50.10" y1="175.50" x2="50.10" y2="193.00" stroke="#000" stroke-width="1.3" />
<path d="M47.3,192 L52.9,192 L50.1,199.5 Z" fill="#000"/>
<path d="M77.8,175.3 L77.8,195.3 L248.1,195.3 L248.1,198" fill="none" stroke="#1f8f8f" stroke-width="1.3"/>
<path d="M245.3,197.5 L250.9,197.5 L248.1,203.3 Z" fill="#1f8f8f"/>
<text x="3.60" y="193.20" font-size="15" fill="#000" text-anchor="start" >b)</text>
<text transform="translate(16.8,263) rotate(-90)" font-size="15.75" text-anchor="middle">&lt;Pauli operator&gt;</text>
<text x="45.00" y="209.70" font-size="15" fill="#000" text-anchor="end" >1.0</text>
<text x="45.00" y="241.85" font-size="15" fill="#000" text-anchor="end" >0.5</text>
<text x="45.00" y="274.00" font-size="15" fill="#000" text-anchor="end" >0.0</text>
<text x="45.00" y="306.15" font-size="15" fill="#000" text-anchor="end" >-0.5</text>
<text x="45.00" y="338.30" font-size="15" fill="#000" text-anchor="end" >-1.0</text>
<rect x="55.20" y="268.70" width="8.2" height="8.04" fill="#008080"/>
<rect x="66.85" y="268.70" width="8.2" height="8.04" fill="#008080"/>
<rect x="78.00" y="204.72" width="9" height="63.98" fill="#008080"/>
<rect x="90.15" y="264.39" width="8.2" height="4.31" fill="#ff8000"/>
<rect x="101.80" y="268.70" width="8.2" height="7.72" fill="#ff8000"/>
<rect x="113.00" y="268.70" width="9" height="61.73" fill="#ff8000"/>
<rect x="148.40" y="260.98" width="8.2" height="7.72" fill="#800080"/>
<rect x="171.70" y="266.77" width="8.2" height="1.93" fill="#800080"/>
<rect x="183.35" y="262.27" width="8.2" height="6.43" fill="#800080"/>
<rect x="195.00" y="264.20" width="8.2" height="4.50" fill="#800080"/>
<rect x="206.65" y="268.70" width="8.2" height="8.36" fill="#800080"/>
<rect x="218.00" y="268.70" width="9" height="60.44" fill="#800080"/>
<rect x="77.50" y="204.40" width="10" height="64.30" fill="none" stroke="#1a1a1a" stroke-width="1"/>
<rect x="112.50" y="268.70" width="10" height="64.30" fill="none" stroke="#1a1a1a" stroke-width="1"/>
<rect x="217.50" y="268.70" width="10" height="64.30" fill="none" stroke="#1a1a1a" stroke-width="1"/>
<line x1="50.50" y1="333.00" x2="57.40" y2="333.00" stroke="#000" stroke-width="1.2" />
<line x1="232.00" y1="333.00" x2="225.10" y2="333.00" stroke="#000" stroke-width="1.2" />
<line x1="50.50" y1="326.57" x2="54.20" y2="326.57" stroke="#000" stroke-width="1.2" />
<line x1="232.00" y1="326.57" x2="228.30" y2="326.57" stroke="#000" stroke-width="1.2" />
<line x1="50.50" y1="320.14" x2="54.20" y2="320.14" stroke="#000" stroke-width="1.2" />
<line x1="232.00" y1="320.14" x2="228.30" y2="320.14" stroke="#000" stroke-width="1.2" />
<line x1="50.50" y1="313.71" x2="54.20" y2="313.71" stroke="#000" stroke-width="1.2" />
<line x1="232.00" y1="313.71" x2="228.30" y2="313.71" stroke="#000" stroke-width="1.2" />
<line x1="50.50" y1="307.28" x2="54.20" y2="307.28" stroke="#000" stroke-width="1.2" />
<line x1="232.00" y1="307.28" x2="228.30" y2="307.28" stroke="#000" stroke-width="1.2" />
<line x1="50.50" y1="300.85" x2="57.40" y2="300.85" stroke="#000" stroke-width="1.2" />
<line x1="232.00" y1="300.85" x2="225.10" y2="300.85" stroke="#000" stroke-width="1.2" />
<line x1="50.50" y1="294.42" x2="54.20" y2="294.42" stroke="#000" stroke-width="1.2" />
<line x1="232.00" y1="294.42" x2="228.30" y2="294.42" stroke="#000" stroke-width="1.2" />
<line x1="50.50" y1="287.99" x2="54.20" y2="287.99" stroke="#000" stroke-width="1.2" />
<line x1="232.00" y1="287.99" x2="228.30" y2="287.99" stroke="#000" stroke-width="1.2" />
<line x1="50.50" y1="281.56" x2="54.20" y2="281.56" stroke="#000" stroke-width="1.2" />
<line x1="232.00" y1="281.56" x2="228.30" y2="281.56" stroke="#000" stroke-width="1.2" />
<line x1="50.50" y1="275.13" x2="54.20" y2="275.13" stroke="#000" stroke-width="1.2" />
<line x1="232.00" y1="275.13" x2="228.30" y2="275.13" stroke="#000" stroke-width="1.2" />
<line x1="50.50" y1="268.70" x2="57.40" y2="268.70" stroke="#000" stroke-width="1.2" />
<line x1="232.00" y1="268.70" x2="225.10" y2="268.70" stroke="#000" stroke-width="1.2" />
<line x1="50.50" y1="262.27" x2="54.20" y2="262.27" stroke="#000" stroke-width="1.2" />
<line x1="232.00" y1="262.27" x2="228.30" y2="262.27" stroke="#000" stroke-width="1.2" />
<line x1="50.50" y1="255.84" x2="54.20" y2="255.84" stroke="#000" stroke-width="1.2" />
<line x1="232.00" y1="255.84" x2="228.30" y2="255.84" stroke="#000" stroke-width="1.2" />
<line x1="50.50" y1="249.41" x2="54.20" y2="249.41" stroke="#000" stroke-width="1.2" />
<line x1="232.00" y1="249.41" x2="228.30" y2="249.41" stroke="#000" stroke-width="1.2" />
<line x1="50.50" y1="242.98" x2="54.20" y2="242.98" stroke="#000" stroke-width="1.2" />
<line x1="232.00" y1="242.98" x2="228.30" y2="242.98" stroke="#000" stroke-width="1.2" />
<line x1="50.50" y1="236.55" x2="57.40" y2="236.55" stroke="#000" stroke-width="1.2" />
<line x1="232.00" y1="236.55" x2="225.10" y2="236.55" stroke="#000" stroke-width="1.2" />
<line x1="50.50" y1="230.12" x2="54.20" y2="230.12" stroke="#000" stroke-width="1.2" />
<line x1="232.00" y1="230.12" x2="228.30" y2="230.12" stroke="#000" stroke-width="1.2" />
<line x1="50.50" y1="223.69" x2="54.20" y2="223.69" stroke="#000" stroke-width="1.2" />
<line x1="232.00" y1="223.69" x2="228.30" y2="223.69" stroke="#000" stroke-width="1.2" />
<line x1="50.50" y1="217.26" x2="54.20" y2="217.26" stroke="#000" stroke-width="1.2" />
<line x1="232.00" y1="217.26" x2="228.30" y2="217.26" stroke="#000" stroke-width="1.2" />
<line x1="50.50" y1="210.83" x2="54.20" y2="210.83" stroke="#000" stroke-width="1.2" />
<line x1="232.00" y1="210.83" x2="228.30" y2="210.83" stroke="#000" stroke-width="1.2" />
<line x1="50.50" y1="204.40" x2="57.40" y2="204.40" stroke="#000" stroke-width="1.2" />
<line x1="232.00" y1="204.40" x2="225.10" y2="204.40" stroke="#000" stroke-width="1.2" />
<line x1="50.50" y1="268.70" x2="232.00" y2="268.70" stroke="#000" stroke-width="1.4" />
<rect x="50.5" y="204.2" width="181.5" height="128.8" fill="none" stroke="#000" stroke-width="1.4"/>
<text x="59.50" y="330.90" font-size="11.5" fill="#3a88a2" text-anchor="middle" >IX</text>
<text x="71.70" y="344.50" font-size="11.5" fill="#3a88a2" text-anchor="middle" >IY</text>
<text x="83.50" y="330.90" font-size="11.5" fill="#3a88a2" text-anchor="middle" >IZ</text>
<text x="95.50" y="344.50" font-size="11.5" fill="#ff9420" text-anchor="middle" >XI</text>
<text x="106.80" y="330.90" font-size="11.5" fill="#ff9420" text-anchor="middle" >YI</text>
<text x="118.30" y="344.50" font-size="11.5" fill="#ff9420" text-anchor="middle" >ZI</text>
<text x="130.20" y="344.50" font-size="11.5" fill="#8c2496" text-anchor="middle" >XX</text>
<text x="143.60" y="330.90" font-size="11.5" fill="#8c2496" text-anchor="middle" >YX</text>
<text x="153.80" y="344.50" font-size="11.5" fill="#8c2496" text-anchor="middle" >ZX</text>
<text x="166.10" y="330.90" font-size="11.5" fill="#8c2496" text-anchor="middle" >XY</text>
<text x="178.50" y="344.50" font-size="11.5" fill="#8c2496" text-anchor="middle" >YY</text>
<text x="188.50" y="330.90" font-size="11.5" fill="#8c2496" text-anchor="middle" >ZY</text>
<text x="201.20" y="344.50" font-size="11.5" fill="#8c2496" text-anchor="middle" >XZ</text>
<text x="210.10" y="330.90" font-size="11.5" fill="#8c2496" text-anchor="middle" >YZ</text>
<text x="223.20" y="344.50" font-size="11.5" fill="#8c2496" text-anchor="middle" >ZZ</text>
<rect x="251.10" y="268.70" width="8.2" height="3.21" fill="#008080"/>
<rect x="262.75" y="268.70" width="8.2" height="6.43" fill="#008080"/>
<rect x="286.05" y="267.41" width="8.2" height="1.29" fill="#ff8000"/>
<rect x="309.35" y="257.13" width="8.2" height="11.57" fill="#ff8000"/>
<rect x="332.00" y="204.72" width="9" height="63.98" fill="#800080"/>
<rect x="356.00" y="268.70" width="9" height="61.08" fill="#800080"/>
<rect x="367.60" y="262.27" width="8.2" height="6.43" fill="#800080"/>
<rect x="379.25" y="268.70" width="8.2" height="7.07" fill="#800080"/>
<rect x="390.90" y="262.91" width="8.2" height="5.79" fill="#800080"/>
<rect x="402.55" y="266.77" width="8.2" height="1.93" fill="#800080"/>
<rect x="414.00" y="268.70" width="9" height="50.80" fill="#800080"/>
<rect x="331.50" y="204.40" width="10" height="64.30" fill="none" stroke="#1a1a1a" stroke-width="1"/>
<rect x="355.50" y="268.70" width="10" height="64.30" fill="none" stroke="#1a1a1a" stroke-width="1"/>
<rect x="413.50" y="268.70" width="10" height="64.30" fill="none" stroke="#1a1a1a" stroke-width="1"/>
<line x1="246.20" y1="333.00" x2="253.10" y2="333.00" stroke="#000" stroke-width="1.2" />
<line x1="428.00" y1="333.00" x2="421.10" y2="333.00" stroke="#000" stroke-width="1.2" />
<line x1="246.20" y1="326.57" x2="249.90" y2="326.57" stroke="#000" stroke-width="1.2" />
<line x1="428.00" y1="326.57" x2="424.30" y2="326.57" stroke="#000" stroke-width="1.2" />
<line x1="246.20" y1="320.14" x2="249.90" y2="320.14" stroke="#000" stroke-width="1.2" />
<line x1="428.00" y1="320.14" x2="424.30" y2="320.14" stroke="#000" stroke-width="1.2" />
<line x1="246.20" y1="313.71" x2="249.90" y2="313.71" stroke="#000" stroke-width="1.2" />
<line x1="428.00" y1="313.71" x2="424.30" y2="313.71" stroke="#000" stroke-width="1.2" />
<line x1="246.20" y1="307.28" x2="249.90" y2="307.28" stroke="#000" stroke-width="1.2" />
<line x1="428.00" y1="307.28" x2="424.30" y2="307.28" stroke="#000" stroke-width="1.2" />
<line x1="246.20" y1="300.85" x2="253.10" y2="300.85" stroke="#000" stroke-width="1.2" />
<line x1="428.00" y1="300.85" x2="421.10" y2="300.85" stroke="#000" stroke-width="1.2" />
<line x1="246.20" y1="294.42" x2="249.90" y2="294.42" stroke="#000" stroke-width="1.2" />
<line x1="428.00" y1="294.42" x2="424.30" y2="294.42" stroke="#000" stroke-width="1.2" />
<line x1="246.20" y1="287.99" x2="249.90" y2="287.99" stroke="#000" stroke-width="1.2" />
<line x1="428.00" y1="287.99" x2="424.30" y2="287.99" stroke="#000" stroke-width="1.2" />
<line x1="246.20" y1="281.56" x2="249.90" y2="281.56" stroke="#000" stroke-width="1.2" />
<line x1="428.00" y1="281.56" x2="424.30" y2="281.56" stroke="#000" stroke-width="1.2" />
<line x1="246.20" y1="275.13" x2="249.90" y2="275.13" stroke="#000" stroke-width="1.2" />
<line x1="428.00" y1="275.13" x2="424.30" y2="275.13" stroke="#000" stroke-width="1.2" />
<line x1="246.20" y1="268.70" x2="253.10" y2="268.70" stroke="#000" stroke-width="1.2" />
<line x1="428.00" y1="268.70" x2="421.10" y2="268.70" stroke="#000" stroke-width="1.2" />
<line x1="246.20" y1="262.27" x2="249.90" y2="262.27" stroke="#000" stroke-width="1.2" />
<line x1="428.00" y1="262.27" x2="424.30" y2="262.27" stroke="#000" stroke-width="1.2" />
<line x1="246.20" y1="255.84" x2="249.90" y2="255.84" stroke="#000" stroke-width="1.2" />
<line x1="428.00" y1="255.84" x2="424.30" y2="255.84" stroke="#000" stroke-width="1.2" />
<line x1="246.20" y1="249.41" x2="249.90" y2="249.41" stroke="#000" stroke-width="1.2" />
<line x1="428.00" y1="249.41" x2="424.30" y2="249.41" stroke="#000" stroke-width="1.2" />
<line x1="246.20" y1="242.98" x2="249.90" y2="242.98" stroke="#000" stroke-width="1.2" />
<line x1="428.00" y1="242.98" x2="424.30" y2="242.98" stroke="#000" stroke-width="1.2" />
<line x1="246.20" y1="236.55" x2="253.10" y2="236.55" stroke="#000" stroke-width="1.2" />
<line x1="428.00" y1="236.55" x2="421.10" y2="236.55" stroke="#000" stroke-width="1.2" />
<line x1="246.20" y1="230.12" x2="249.90" y2="230.12" stroke="#000" stroke-width="1.2" />
<line x1="428.00" y1="230.12" x2="424.30" y2="230.12" stroke="#000" stroke-width="1.2" />
<line x1="246.20" y1="223.69" x2="249.90" y2="223.69" stroke="#000" stroke-width="1.2" />
<line x1="428.00" y1="223.69" x2="424.30" y2="223.69" stroke="#000" stroke-width="1.2" />
<line x1="246.20" y1="217.26" x2="249.90" y2="217.26" stroke="#000" stroke-width="1.2" />
<line x1="428.00" y1="217.26" x2="424.30" y2="217.26" stroke="#000" stroke-width="1.2" />
<line x1="246.20" y1="210.83" x2="249.90" y2="210.83" stroke="#000" stroke-width="1.2" />
<line x1="428.00" y1="210.83" x2="424.30" y2="210.83" stroke="#000" stroke-width="1.2" />
<line x1="246.20" y1="204.40" x2="253.10" y2="204.40" stroke="#000" stroke-width="1.2" />
<line x1="428.00" y1="204.40" x2="421.10" y2="204.40" stroke="#000" stroke-width="1.2" />
<line x1="246.20" y1="268.70" x2="428.00" y2="268.70" stroke="#000" stroke-width="1.4" />
<rect x="246.2" y="204.2" width="181.8" height="128.8" fill="none" stroke="#000" stroke-width="1.4"/>
<text x="256.20" y="330.90" font-size="11.5" fill="#3a88a2" text-anchor="middle" >IX</text>
<text x="268.50" y="344.50" font-size="11.5" fill="#3a88a2" text-anchor="middle" >IY</text>
<text x="280.50" y="330.90" font-size="11.5" fill="#3a88a2" text-anchor="middle" >IZ</text>
<text x="292.00" y="344.50" font-size="11.5" fill="#ff9420" text-anchor="middle" >XI</text>
<text x="304.20" y="330.90" font-size="11.5" fill="#ff9420" text-anchor="middle" >YI</text>
<text x="314.90" y="344.50" font-size="11.5" fill="#ff9420" text-anchor="middle" >ZI</text>
<text x="326.20" y="330.90" font-size="11.5" fill="#8c2496" text-anchor="middle" >XX</text>
<text x="339.70" y="344.50" font-size="11.5" fill="#8c2496" text-anchor="middle" >YX</text>
<text x="348.50" y="332.10" font-size="11.5" fill="#8c2496" text-anchor="middle" >ZX</text>
<text x="361.00" y="344.50" font-size="11.5" fill="#8c2496" text-anchor="middle" >XY</text>
<text x="373.80" y="330.90" font-size="11.5" fill="#8c2496" text-anchor="middle" >YY</text>
<text x="385.20" y="344.50" font-size="11.5" fill="#8c2496" text-anchor="middle" >ZY</text>
<text x="397.50" y="330.90" font-size="11.5" fill="#8c2496" text-anchor="middle" >XZ</text>
<text x="406.60" y="344.50" font-size="11.5" fill="#8c2496" text-anchor="middle" >YZ</text>
<text x="419.20" y="344.50" font-size="11.5" fill="#8c2496" text-anchor="middle" >ZZ</text>
<text x="4.30" y="363.80" font-size="15" fill="#000" text-anchor="start" >c)</text>
<text x="20.10" y="385.00" font-size="13.3" fill="#1a9a1a" text-anchor="start" >I00&gt;</text>
<text x="20.10" y="431.70" font-size="13.3" fill="#ff1a1a" text-anchor="start" >I01&gt;</text>
<text x="20.10" y="476.10" font-size="13.3" fill="#4040ff" text-anchor="start" >I10&gt;</text>
<text x="20.10" y="522.40" font-size="13.3" fill="#ff22ff" text-anchor="start" >I11&gt;</text>
<rect x="49.20" y="354.00" width="46.10" height="46.10" fill="#f1f1f1"/>
<rect x="95.30" y="400.10" width="46.10" height="46.10" fill="#f1f1f1"/>
<rect x="141.40" y="446.20" width="46.10" height="46.10" fill="#f1f1f1"/>
<rect x="187.50" y="492.30" width="46.10" height="46.10" fill="#f1f1f1"/>
<line x1="49.20" y1="354.00" x2="49.20" y2="538.40" stroke="#000" stroke-width="1.5" stroke-dasharray="2.8 1.4"/>
<line x1="49.20" y1="354.00" x2="233.60" y2="354.00" stroke="#000" stroke-width="1.5" stroke-dasharray="2.8 1.4"/>
<line x1="95.30" y1="354.00" x2="95.30" y2="538.40" stroke="#000" stroke-width="1.5" stroke-dasharray="2.8 1.4"/>
<line x1="49.20" y1="400.10" x2="233.60" y2="400.10" stroke="#000" stroke-width="1.5" stroke-dasharray="2.8 1.4"/>
<line x1="141.40" y1="354.00" x2="141.40" y2="538.40" stroke="#000" stroke-width="1.5" stroke-dasharray="2.8 1.4"/>
<line x1="49.20" y1="446.20" x2="233.60" y2="446.20" stroke="#000" stroke-width="1.5" stroke-dasharray="2.8 1.4"/>
<line x1="187.50" y1="354.00" x2="187.50" y2="538.40" stroke="#000" stroke-width="1.5" stroke-dasharray="2.8 1.4"/>
<line x1="49.20" y1="492.30" x2="233.60" y2="492.30" stroke="#000" stroke-width="1.5" stroke-dasharray="2.8 1.4"/>
<line x1="233.60" y1="354.00" x2="233.60" y2="538.40" stroke="#000" stroke-width="1.5" stroke-dasharray="2.8 1.4"/>
<line x1="49.20" y1="538.40" x2="233.60" y2="538.40" stroke="#000" stroke-width="1.5" stroke-dasharray="2.8 1.4"/>
<rect x="245.20" y="353.60" width="46.10" height="46.10" fill="#f1f1f1"/>
<rect x="291.30" y="399.70" width="46.10" height="46.10" fill="#f1f1f1"/>
<rect x="337.40" y="445.80" width="46.10" height="46.10" fill="#f1f1f1"/>
<rect x="383.50" y="491.90" width="46.10" height="46.10" fill="#f1f1f1"/>
<line x1="245.20" y1="353.60" x2="245.20" y2="538.00" stroke="#000" stroke-width="1.5" stroke-dasharray="2.8 1.4"/>
<line x1="245.20" y1="353.60" x2="429.60" y2="353.60" stroke="#000" stroke-width="1.5" stroke-dasharray="2.8 1.4"/>
<line x1="291.30" y1="353.60" x2="291.30" y2="538.00" stroke="#000" stroke-width="1.5" stroke-dasharray="2.8 1.4"/>
<line x1="245.20" y1="399.70" x2="429.60" y2="399.70" stroke="#000" stroke-width="1.5" stroke-dasharray="2.8 1.4"/>
<line x1="337.40" y1="353.60" x2="337.40" y2="538.00" stroke="#000" stroke-width="1.5" stroke-dasharray="2.8 1.4"/>
<line x1="245.20" y1="445.80" x2="429.60" y2="445.80" stroke="#000" stroke-width="1.5" stroke-dasharray="2.8 1.4"/>
<line x1="383.50" y1="353.60" x2="383.50" y2="538.00" stroke="#000" stroke-width="1.5" stroke-dasharray="2.8 1.4"/>
<line x1="245.20" y1="491.90" x2="429.60" y2="491.90" stroke="#000" stroke-width="1.5" stroke-dasharray="2.8 1.4"/>
<line x1="429.60" y1="353.60" x2="429.60" y2="538.00" stroke="#000" stroke-width="1.5" stroke-dasharray="2.8 1.4"/>
<line x1="245.20" y1="538.00" x2="429.60" y2="538.00" stroke="#000" stroke-width="1.5" stroke-dasharray="2.8 1.4"/>
<circle cx="72.00" cy="376.60" r="4.5" fill="none" stroke="#ff2a2a" stroke-width="0.85"/>
<line x1="72.00" y1="376.60" x2="76.50" y2="376.60" stroke="#ff3a3a" stroke-width="0.85" />
<circle cx="72.00" cy="376.60" r="0.75" fill="#4a3a3a"/>
<circle cx="118.10" cy="376.60" r="2.6" fill="none" stroke="#ff2a2a" stroke-width="0.85"/>
<circle cx="118.10" cy="376.60" r="0.75" fill="#4a3a3a"/>
<circle cx="164.60" cy="376.60" r="5.4" fill="none" stroke="#ff2a2a" stroke-width="0.85"/>
<line x1="164.60" y1="376.60" x2="170.00" y2="376.60" stroke="#ff3a3a" stroke-width="0.85" />
<circle cx="164.60" cy="376.60" r="0.75" fill="#4a3a3a"/>
<circle cx="210.90" cy="376.60" r="2.7" fill="none" stroke="#ff2a2a" stroke-width="0.85"/>
<circle cx="210.90" cy="376.60" r="0.75" fill="#4a3a3a"/>
<circle cx="72.00" cy="422.60" r="2.7" fill="none" stroke="#ff2a2a" stroke-width="0.85"/>
<circle cx="72.00" cy="422.60" r="0.75" fill="#4a3a3a"/>
<circle cx="118.10" cy="422.60" r="2.0" fill="none" stroke="#ff2a2a" stroke-width="0.85"/>
<circle cx="118.10" cy="422.60" r="0.75" fill="#4a3a3a"/>
<circle cx="164.60" cy="422.60" r="4.6" fill="none" stroke="#ff2a2a" stroke-width="0.85"/>
<line x1="164.60" y1="422.60" x2="169.04" y2="421.41" stroke="#ff3a3a" stroke-width="0.85" />
<circle cx="164.60" cy="422.60" r="0.75" fill="#4a3a3a"/>
<circle cx="210.90" cy="422.60" r="1.0" fill="none" stroke="#ff2a2a" stroke-width="0.85"/>
<circle cx="210.90" cy="422.60" r="0.75" fill="#4a3a3a"/>
<circle cx="72.00" cy="468.70" r="5.9" fill="none" stroke="#ff2a2a" stroke-width="0.85"/>
<line x1="72.00" y1="468.70" x2="77.88" y2="468.19" stroke="#ff3a3a" stroke-width="0.85" />
<circle cx="72.00" cy="468.70" r="0.75" fill="#4a3a3a"/>
<circle cx="118.10" cy="468.70" r="4.8" fill="none" stroke="#ff2a2a" stroke-width="0.85"/>
<line x1="118.10" y1="468.70" x2="122.61" y2="470.34" stroke="#ff3a3a" stroke-width="0.85" />
<circle cx="118.10" cy="468.70" r="0.75" fill="#4a3a3a"/>
<circle cx="164.60" cy="468.70" r="23.3" fill="#ccffff" stroke="none"/>
<circle cx="164.60" cy="468.70" r="23" fill="none" stroke="#181818" stroke-width="1.25"/>
<circle cx="164.60" cy="468.70" r="22.5" fill="none" stroke="#e02424" stroke-width="1.0"/>
<line x1="164.60" y1="468.70" x2="187.10" y2="468.70" stroke="#b83030" stroke-width="1.2" />
<circle cx="164.60" cy="468.70" r="0.7" fill="#502020"/>
<circle cx="210.90" cy="468.70" r="3.7" fill="none" stroke="#ff2a2a" stroke-width="0.85"/>
<line x1="210.90" y1="468.70" x2="214.60" y2="468.70" stroke="#ff3a3a" stroke-width="0.85" />
<circle cx="210.90" cy="468.70" r="0.75" fill="#4a3a3a"/>
<circle cx="72.00" cy="514.60" r="2.9" fill="none" stroke="#ff2a2a" stroke-width="0.85"/>
<circle cx="72.00" cy="514.60" r="0.75" fill="#4a3a3a"/>
<circle cx="118.10" cy="514.60" r="1.0" fill="none" stroke="#ff2a2a" stroke-width="0.85"/>
<circle cx="118.10" cy="514.60" r="0.75" fill="#4a3a3a"/>
<circle cx="164.60" cy="514.60" r="4.0" fill="none" stroke="#ff2a2a" stroke-width="0.85"/>
<circle cx="164.60" cy="514.60" r="0.75" fill="#4a3a3a"/>
<circle cx="210.90" cy="514.60" r="3.0" fill="none" stroke="#ff2a2a" stroke-width="0.85"/>
<line x1="210.90" y1="514.60" x2="213.90" y2="514.60" stroke="#ff3a3a" stroke-width="0.85" />
<circle cx="210.90" cy="514.60" r="0.75" fill="#4a3a3a"/>
<circle cx="267.80" cy="376.50" r="6.5" fill="none" stroke="#ff2a2a" stroke-width="0.85"/>
<line x1="267.80" y1="376.50" x2="274.30" y2="376.50" stroke="#ff3a3a" stroke-width="0.85" />
<circle cx="267.80" cy="376.50" r="0.75" fill="#4a3a3a"/>
<circle cx="314.10" cy="376.50" r="6.5" fill="none" stroke="#ff2a2a" stroke-width="0.85"/>
<line x1="314.10" y1="376.50" x2="311.35" y2="370.61" stroke="#ff3a3a" stroke-width="0.85" />
<circle cx="314.10" cy="376.50" r="0.75" fill="#4a3a3a"/>
<circle cx="360.50" cy="376.50" r="4.8" fill="none" stroke="#ff2a2a" stroke-width="0.85"/>
<line x1="360.50" y1="376.50" x2="363.89" y2="373.11" stroke="#ff3a3a" stroke-width="0.85" />
<circle cx="360.50" cy="376.50" r="0.75" fill="#4a3a3a"/>
<circle cx="406.80" cy="376.50" r="3.7" fill="none" stroke="#ff2a2a" stroke-width="0.85"/>
<line x1="406.80" y1="376.50" x2="409.42" y2="373.88" stroke="#ff3a3a" stroke-width="0.85" />
<circle cx="406.80" cy="376.50" r="0.75" fill="#4a3a3a"/>
<circle cx="267.80" cy="422.50" r="6.5" fill="none" stroke="#ff2a2a" stroke-width="0.85"/>
<line x1="267.80" y1="422.50" x2="264.55" y2="428.13" stroke="#ff3a3a" stroke-width="0.85" />
<circle cx="267.80" cy="422.50" r="0.75" fill="#4a3a3a"/>
<circle cx="314.10" cy="422.50" r="17.0" fill="#ccffff" stroke="none"/>
<circle cx="314.10" cy="422.50" r="16.4" fill="none" stroke="#181818" stroke-width="1.25"/>
<circle cx="314.10" cy="422.50" r="16.7" fill="none" stroke="#e02424" stroke-width="1.0"/>
<line x1="314.10" y1="422.50" x2="330.80" y2="422.50" stroke="#b83030" stroke-width="1.2" />
<circle cx="314.10" cy="422.50" r="0.7" fill="#502020"/>
<circle cx="360.50" cy="422.50" r="16.8" fill="#eeffcc" stroke="none"/>
<circle cx="360.50" cy="422.50" r="16.5" fill="none" stroke="#181818" stroke-width="1.25"/>
<circle cx="360.50" cy="422.50" r="15.9" fill="none" stroke="#e02424" stroke-width="1.0"/>
<line x1="360.50" y1="422.50" x2="360.50" y2="438.40" stroke="#b83030" stroke-width="1.2" />
<circle cx="360.50" cy="422.50" r="0.7" fill="#502020"/>
<circle cx="406.80" cy="422.50" r="2.6" fill="none" stroke="#ff2a2a" stroke-width="0.85"/>
<line x1="406.80" y1="422.50" x2="404.20" y2="422.50" stroke="#ff3a3a" stroke-width="0.85" />
<circle cx="406.80" cy="422.50" r="0.75" fill="#4a3a3a"/>
<circle cx="267.80" cy="468.60" r="5.2" fill="none" stroke="#ff2a2a" stroke-width="0.85"/>
<line x1="267.80" y1="468.60" x2="272.30" y2="471.20" stroke="#ff3a3a" stroke-width="0.85" />
<circle cx="267.80" cy="468.60" r="0.75" fill="#4a3a3a"/>
<circle cx="314.10" cy="468.60" r="16.8" fill="#e6ccff" stroke="none"/>
<circle cx="314.10" cy="468.60" r="16.5" fill="none" stroke="#181818" stroke-width="1.25"/>
<circle cx="314.10" cy="468.60" r="15.8" fill="none" stroke="#e02424" stroke-width="1.0"/>
<line x1="314.10" y1="468.60" x2="314.10" y2="452.80" stroke="#b83030" stroke-width="1.2" />
<circle cx="314.10" cy="468.60" r="0.7" fill="#502020"/>
<circle cx="360.50" cy="468.60" r="16.8" fill="#ccffff" stroke="none"/>
<circle cx="360.50" cy="468.60" r="16.5" fill="none" stroke="#181818" stroke-width="1.25"/>
<circle cx="360.50" cy="468.60" r="14.7" fill="none" stroke="#e02424" stroke-width="1.0"/>
<line x1="360.50" y1="468.60" x2="375.20" y2="468.60" stroke="#b83030" stroke-width="1.2" />
<circle cx="360.50" cy="468.60" r="0.7" fill="#502020"/>
<circle cx="406.80" cy="468.60" r="2.8" fill="none" stroke="#ff2a2a" stroke-width="0.85"/>
<line x1="406.80" y1="468.60" x2="406.80" y2="465.80" stroke="#ff3a3a" stroke-width="0.85" />
<circle cx="406.80" cy="468.60" r="0.75" fill="#4a3a3a"/>
<circle cx="267.80" cy="514.60" r="3.7" fill="none" stroke="#ff2a2a" stroke-width="0.85"/>
<line x1="267.80" y1="514.60" x2="270.42" y2="517.22" stroke="#ff3a3a" stroke-width="0.85" />
<circle cx="267.80" cy="514.60" r="0.75" fill="#4a3a3a"/>
<circle cx="314.10" cy="514.60" r="2.6" fill="none" stroke="#ff2a2a" stroke-width="0.85"/>
<line x1="314.10" y1="514.60" x2="311.50" y2="514.60" stroke="#ff3a3a" stroke-width="0.85" />
<circle cx="314.10" cy="514.60" r="0.75" fill="#4a3a3a"/>
<circle cx="360.50" cy="514.60" r="3.0" fill="none" stroke="#ff2a2a" stroke-width="0.85"/>
<line x1="360.50" y1="514.60" x2="360.50" y2="511.60" stroke="#ff3a3a" stroke-width="0.85" />
<circle cx="360.50" cy="514.60" r="0.75" fill="#4a3a3a"/>
<circle cx="406.80" cy="514.60" r="3.0" fill="none" stroke="#ff2a2a" stroke-width="0.85"/>
<line x1="406.80" y1="514.60" x2="409.80" y2="514.60" stroke="#ff3a3a" stroke-width="0.85" />
<circle cx="406.80" cy="514.60" r="0.75" fill="#4a3a3a"/>
<circle cx="54.9" cy="552.9" r="5.5" fill="#f8cca4" stroke="#555" stroke-width="0.9"/>
<text x="63.40" y="556.40" font-size="13.6" fill="#000" text-anchor="start" >ideal</text>
<circle cx="108.5" cy="552.9" r="5.6" fill="none" stroke="#ff2020" stroke-width="1"/>
<text x="114.60" y="556.60" font-size="13.9" fill="#ff2020" text-anchor="start" >measured</text>
<text x="189.90" y="558.30" font-size="13.5" fill="#000" text-anchor="start" >F=95%</text>
<text x="252.30" y="558.30" font-size="13.5" fill="#000" text-anchor="start" >F=91%</text>
<text x="386.30" y="558.30" font-size="13.4" fill="#000" text-anchor="start" >C=0.85</text>
</svg>
</body></html>
